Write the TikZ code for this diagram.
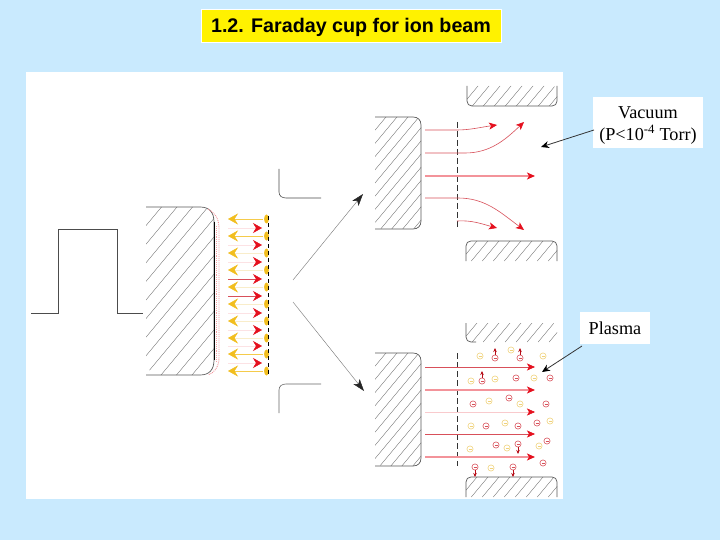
\documentclass[tikz,border=0pt]{standalone}
\usepackage{fontspec}
\setmainfont{Liberation Serif}
\newfontfamily\titlefont{Liberation Sans}
\usetikzlibrary{arrows.meta}
\definecolor{bgblue}{HTML}{C9EAFE}
\definecolor{ionred}{HTML}{E5101E}
\definecolor{ionyellow}{HTML}{F2BE1E}
\definecolor{softyellow}{HTML}{F0D27A}
\definecolor{softred}{HTML}{D8505A}
\definecolor{hatchgray}{HTML}{6A6A6A}
\tikzset{
  redtip/.tip={Stealth[length=8pt,width=7pt,inset=2pt,color=ionred]},
  bigredtip/.tip={Stealth[length=9pt,width=10pt,inset=3pt,color=ionred]},
  yeltip/.tip={Stealth[length=10pt,width=11pt,inset=3.5pt,color=ionyellow]},
  redray/.style={draw=softred,line width=0.6pt,-{redtip}},
  wideray/.style={draw=ionred!45,line width=1.3pt,-{redtip}},
  faintray/.style={draw=ionred!22,line width=0.5pt,-{redtip}},
  gapred/.style={draw=softred,line width=0.6pt,-{bigredtip}},
  gapfaint/.style={draw=ionred!12,line width=0.5pt,-{bigredtip}},
  yelray/.style={draw=ionyellow!80,line width=0.5pt,-{yeltip}},
  faintyel/.style={draw=softyellow!40,line width=0.5pt,-{yeltip}},
  outline/.style={draw=hatchgray!85!black,line width=0.7pt},
  pointer/.style={draw=black!80,line width=0.8pt,-{Stealth[length=8pt,width=7pt,color=black]}},
  longpointer/.style={draw=black!50,line width=0.45pt,-{Stealth[length=12pt,width=8pt,inset=3pt,color=black!85]}},
  labelbox/.style={fill=white,inner sep=0pt,font=\fontsize{18.2}{22}\selectfont,align=center},
  titlebox/.style={fill=yellow,draw=white,line width=0.8pt,inner sep=0pt,minimum width=300pt,minimum height=33pt,font=\titlefont\bfseries\fontsize{19.7}{22}\selectfont},
}
% clip path, xmin, ymin, xmax, ymax, step
\newcommand{\hatchfill}[6]{%
  \begin{scope}
    \clip #1;
    \pgfmathsetmacro{\hatchrun}{(#5-#3)/1.2}
    \pgfmathsetmacro{\hatchfirst}{#2-\hatchrun}
    \pgfmathsetmacro{\hatchnext}{\hatchfirst+#6}
    \foreach \hx in {\hatchfirst,\hatchnext,...,#4}
      \draw[hatchgray,line width=0.35pt] (\hx,#5) -- ++(\hatchrun,#3-#5);
  \end{scope}}
\newcommand{\inkdown}[2]{\raisebox{-#1}[\height][\depth]{#2}}
\begin{document}
\begin{tikzpicture}[x=1pt,y=-1pt]
\useasboundingbox (0,0) rectangle (720,540);
\fill[bgblue] (0,0) rectangle (720,540);
\fill[white] (26,72) rectangle (563,499);
\node[titlebox] (title) at (351,25.5) {\inkdown{1.5pt}{1.2. Faraday cup for ion beam}};

% pulse
\draw[draw=black!70,line width=0.6pt] (31,313) -- (58,313) -- (58,229) -- (117,229) -- (117,313) -- (143,313);

% left electrode
\hatchfill{[rounded corners=14pt] (146,207) -- (214,207) -- (214,375) -- (146,375) -- cycle}{146}{207}{214}{375}{15.5}
\draw[outline] (146,207) -- (200,207) .. controls (209,207) and (214,212) .. (214,222) -- (214,360) .. controls (214,370) and (209,375) .. (200,375) -- (146,375);
\draw[black,line width=0.7pt] (214,222) -- (214,360);
% plasma sheath
\draw[ionred!45,line width=0.9pt,densely dotted] (208,209) .. controls (214,212) and (219,218) .. (219,228) -- (219,358) .. controls (219,367) and (214,373) .. (208,375);
\draw[ionred!40,line width=0.9pt,densely dotted] (216.5,226) -- (216.5,362);

% grid with electrons
\foreach \gy in {219,236,253,270,287,304,321,338,354,371}
  \fill[ionyellow] (266.5,\gy) ellipse (2.4pt and 4.5pt);
\draw[black,line width=0.8pt,dash pattern=on 4pt off 3pt] (268.5,216) -- (268.5,374);

% ions and electrons between electrode and grid
\foreach \ay/\asty in {219/yelray,236/yelray,253/faintyel,270/faintyel,287/faintyel,304/faintyel,321/faintyel,338/faintyel,354/yelray,371/yelray}{
  \coordinate (ystart\ay) at (263,\ay);
  \coordinate (yend\ay) at (228,\ay);
  \draw[\asty] (ystart\ay) -- (yend\ay);
}
\foreach \ry/\rsty in {228/gapfaint,245/gapfaint,262/gapfaint,279/gapred,296/gapred,313/gapfaint,330/gapfaint,346/gapfaint,363/gapfaint}{
  \coordinate (rstart\ry) at (228,\ry);
  \coordinate (rend\ry) at (262,\ry);
  \draw[\rsty] (rstart\ry) -- (rend\ry);
}

% aperture pieces
\draw[draw=black!70,line width=0.6pt] (279,169) -- (279,192) .. controls (279,196) and (282,198) .. (286,198) -- (321,198);
\draw[draw=black!60,line width=0.6pt] (321,384) -- (286,384) .. controls (282,384) and (279,386) .. (279,390) -- (279,413);

% long arrows
\coordinate (upfrom) at (293,280);
\coordinate (upto) at (363,194);
\coordinate (downfrom) at (293,302);
\coordinate (downto) at (364,391);
\draw[longpointer] (upfrom) -- (upto);
\draw[longpointer] (downfrom) -- (downto);

% upper view: solid shapes
\hatchfill{[rounded corners=8pt] (375,117) -- (421,117) -- (421,229) -- (375,229) -- cycle}{375}{117}{421}{229}{11}
\draw[outline] (375,117) -- (413,117) .. controls (418,117) and (421,120) .. (421,125) -- (421,221) .. controls (421,226) and (418,229) .. (413,229) -- (375,229);
\hatchfill{[rounded corners=4pt] (467,86) -- (557,86) -- (557,106) -- (467,106) -- cycle}{467}{86}{557}{106}{11}
\draw[outline] (467,86) -- (467,101) .. controls (467,104) and (469,106) .. (472,106) -- (552,106) .. controls (555,106) and (557,104) .. (557,101) -- (557,86);
\hatchfill{[rounded corners=4pt] (466,241) -- (557,241) -- (557,261) -- (466,261) -- cycle}{466}{241}{557}{261}{11}
\draw[outline] (466,261) -- (466,246) .. controls (466,243) and (468,241) .. (471,241) -- (552,241) .. controls (555,241) and (557,243) .. (557,246) -- (557,261);
\draw[black!80,line width=0.6pt,dash pattern=on 6pt off 3pt] (457,122) -- (457,229);

\draw[redray] (425,130) -- (457,130) .. controls (470,130) and (482,127) .. (497,125);
\draw[redray] (425,153) -- (465,153) .. controls (490,153) and (505,140) .. (524,122);
\draw[wideray] (425,176) -- (535,176);
\draw[redray] (425,198) -- (458,198) .. controls (485,198) and (500,212) .. (524,230);
\draw[redray] (457,221) .. controls (472,220) and (482,224) .. (497,228);

% lower view: solid shapes
\hatchfill{[rounded corners=8pt] (375,353) -- (421,353) -- (421,466) -- (375,466) -- cycle}{375}{353}{421}{466}{11}
\draw[outline] (375,353) -- (413,353) .. controls (418,353) and (421,356) .. (421,361) -- (421,458) .. controls (421,463) and (418,466) .. (413,466) -- (375,466);
\hatchfill{[rounded corners=4pt] (466,323) -- (557,323) -- (557,342) -- (466,342) -- cycle}{466}{323}{557}{342}{11}
\draw[outline] (466,323) -- (466,337) .. controls (466,340) and (468,342) .. (471,342) -- (476,342);
\hatchfill{[rounded corners=4pt] (466,477) -- (557,477) -- (557,497) -- (466,497) -- cycle}{466}{477}{557}{497}{11}
\draw[outline] (466,497) -- (466,482) .. controls (466,479) and (468,477) .. (471,477) -- (552,477) .. controls (555,477) and (557,479) .. (557,482) -- (557,497);
\draw[black!80,line width=0.6pt,dash pattern=on 6pt off 3pt] (457,353) -- (457,466);

\draw[redray] (425,367) -- (535,367);
\draw[wideray] (425,390) -- (535,390);
\draw[faintray] (425,412) -- (535,412);
\draw[redray] (425,434) -- (535,434);
\draw[wideray] (425,457) -- (535,457);

% plasma particles
\foreach \px/\py in {480/356,511/350,543/356,471/381,495/379,534/378,489/401,520/404,471/426,505/423,550/421,470/449,507/448,539/446,491/468}{
  \draw[softyellow,line width=0.55pt] (\px,\py) circle (3.1pt);
  \draw[softyellow,line width=0.45pt] (\px-1.5,\py) -- (\px+1.5,\py);
}
\foreach \px/\py in {495/358,520/358,482/381,516/378,550/378,473/404,509/398,546/404,486/426,518/426,537/423,496/445,547/441,518/444,543/463,475/467,513/467}{
  \draw[softred,line width=0.55pt] (\px,\py) circle (3.1pt);
  \draw[softred,line width=0.45pt] (\px-1.5,\py) -- (\px+1.5,\py);
}
\foreach \ax/\ay/\bx/\by in {495/355/495/348,520/355/520/348,482/378/482/371}
  \draw[ionred!80!black,line width=0.6pt,-{Stealth[length=4pt,width=3.5pt]}] (\ax,\ay) -- (\bx,\by);
\foreach \ax/\ay/\bx/\by in {518/447/518/454,475/470/475/477,513/470/513/477}
  \draw[ionred!80!black,line width=0.6pt,-{Stealth[length=4pt,width=3.5pt]}] (\ax,\ay) -- (\bx,\by);

% labels
\node[labelbox,minimum width=110pt,minimum height=51pt] (vacuum) at (648,122.5) {\inkdown{2.5pt}{Vacuum}\\\inkdown{2.5pt}{(P<10\textsuperscript{-4} Torr)}};
\node[labelbox,minimum width=70pt,minimum height=32pt] (plasma) at (615,328) {Plasma};
\coordinate (vacuumtail) at (594,130);
\coordinate (vacuumtip) at (541,147);
\coordinate (plasmatail) at (582,346);
\coordinate (plasmatip) at (542,372);
\draw[pointer] (vacuumtail) -- (vacuumtip);
\draw[pointer] (plasmatail) -- (plasmatip);
\end{tikzpicture}
\end{document}
